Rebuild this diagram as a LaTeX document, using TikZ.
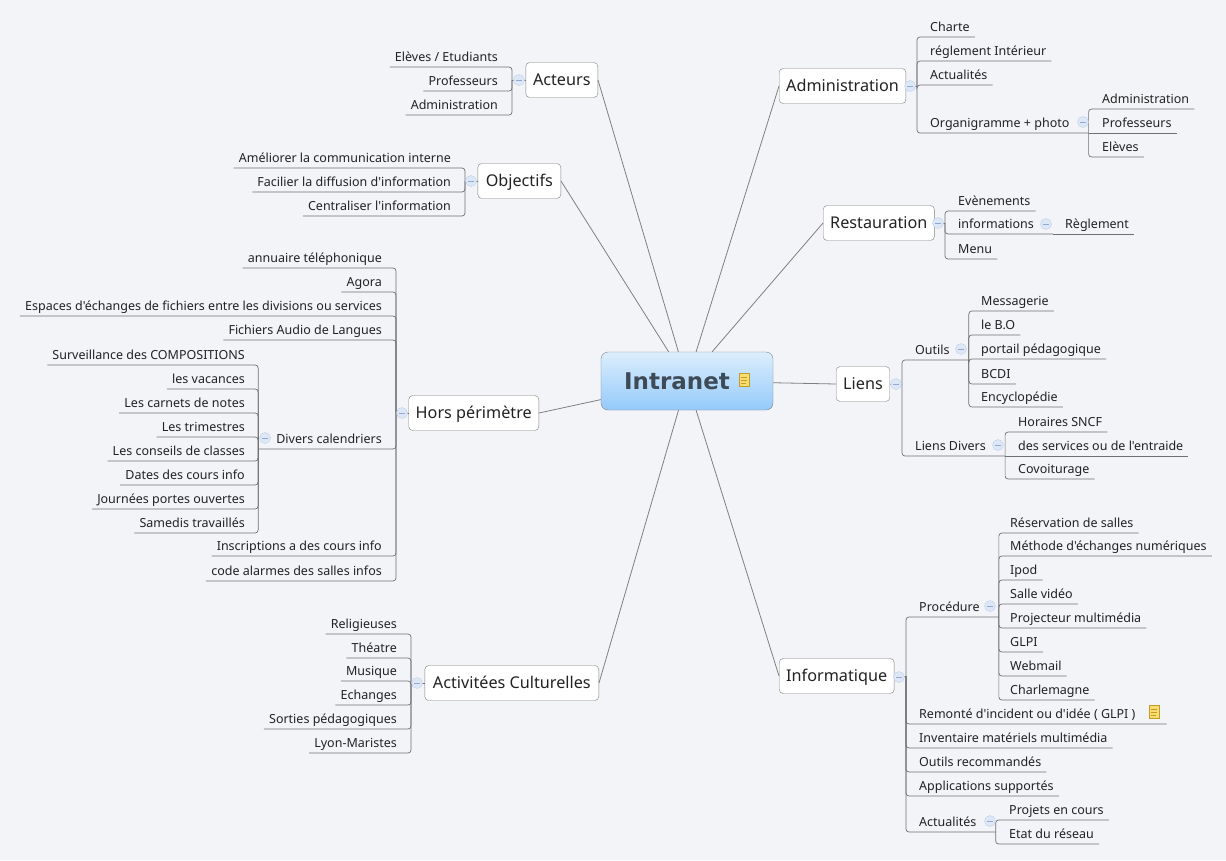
\documentclass[tikz,border=0pt]{standalone}
\usepackage{fontspec}
\setmainfont[Ligatures=TeXOff]{Noto Sans}
\newfontfamily\titlefont{DejaVu Sans}
\usepackage{xcolor}
\definecolor{pagebg}{HTML}{F3F4F8}
\definecolor{inkdark}{HTML}{222222}
\definecolor{linegray}{HTML}{808080}
\definecolor{twiggray}{HTML}{707070}
\definecolor{foldfill}{HTML}{DDE7F6}
\definecolor{foldline}{HTML}{BBD0EC}
\definecolor{foldbar}{HTML}{8FAAD2}
\definecolor{centertop}{HTML}{DCEEFD}
\definecolor{centerbot}{HTML}{94CAFA}
\definecolor{centerink}{HTML}{3E4A56}
\definecolor{noteyellow}{HTML}{F8DD72}
\definecolor{noteline}{HTML}{C49A22}
\tikzset{
	topicbox/.style={draw=linegray, fill=white, rounded corners=4pt, minimum height=35pt, inner xsep=7pt, inner ysep=0pt, text height=14pt, text depth=3pt, text=inkdark, font=\fontsize{16.2}{20}\selectfont},
	centerbox/.style={draw=linegray, top color=centertop, bottom color=centerbot, rounded corners=7pt, minimum width=172pt, minimum height=58pt, inner sep=0pt, text=centerink, font=\titlefont\bfseries\fontsize{23}{28}\selectfont},
	leafbase/.style={inner xsep=0pt, inner ysep=2pt, text height=9pt, text depth=3pt, text=inkdark, font=\fontsize{12.5}{15}\selectfont},
	leafr/.style={leafbase, anchor=south west, execute at begin node=\hspace*{13pt}, execute at end node=\hspace*{#1}},
	leafr/.default=5pt,
	leafl/.style={leafbase, anchor=south east, execute at begin node=\hspace*{#1}, execute at end node=\hspace*{14pt}},
	leafl/.default=5pt,
	branch/.style={draw=linegray, line width=0.8pt},
	twig/.style={draw=twiggray, line width=0.7pt, rounded corners=3pt},
	fold/.style={circle, draw=foldline, fill=foldfill, minimum size=11pt, inner sep=0pt, path picture={\draw[foldbar, line width=0.7pt] ([xshift=-3pt]path picture bounding box.center) -- ([xshift=3pt]path picture bounding box.center);}},
	noteicon/.style={draw=noteline, fill=noteyellow, minimum width=10pt, minimum height=13pt, inner sep=0pt, path picture={
		\draw[noteline, line width=0.6pt] ([xshift=-3pt,yshift=3pt]path picture bounding box.center) -- ([xshift=3pt,yshift=3pt]path picture bounding box.center);
		\draw[noteline, line width=0.6pt] ([xshift=-3pt]path picture bounding box.center) -- ([xshift=3pt]path picture bounding box.center);
		\draw[noteline, line width=0.6pt] ([xshift=-3pt,yshift=-3pt]path picture bounding box.center) -- ([xshift=2pt,yshift=-3pt]path picture bounding box.center);}},
}
\begin{document}
\begin{tikzpicture}[x=1pt, y=-1pt]
	% Page
	\fill[pagebg] (0,0) rectangle (1226,860);

	% Center and main topics
	\node[centerbox] (intranet) at (687,381) {Intranet\hspace*{20pt}};
	\node[topicbox, anchor=east, minimum width=72pt] (acteurs) at (598,80) {Acteurs};
	\node[topicbox, anchor=east, minimum width=83pt] (objectifs) at (561,181) {Objectifs};
	\node[topicbox, anchor=east, minimum width=129pt] (hors) at (539,413) {Hors périmètre};
	\node[topicbox, anchor=east, minimum width=174pt] (activites) at (599,683) {Activitées Culturelles};
	\node[topicbox, anchor=west, minimum width=125pt] (administration) at (779,86) {Administration};
	\node[topicbox, anchor=west, minimum width=109pt] (restauration) at (823,223) {Restauration};
	\node[topicbox, anchor=west, minimum width=53pt] (liens) at (836,384) {Liens};
	\node[topicbox, anchor=west, minimum width=113pt] (informatique) at (779,676) {Informatique};

	\draw[branch] (intranet) -- (acteurs.east);
	\draw[branch] (intranet) -- (objectifs.east);
	\draw[branch] (intranet) -- (hors.east);
	\draw[branch] (intranet) -- (activites.east);
	\draw[branch] (intranet) -- (administration.west);
	\draw[branch] (intranet) -- (restauration.west);
	\draw[branch] (intranet) -- (liens.west);
	\draw[branch] (intranet) -- (informatique.west);

	% Joints on the spines
	\coordinate (acteursjoin) at (512,80);
	\coordinate (objectifsjoin) at (465,181);
	\coordinate (horsjoin) at (396,413);
	\coordinate (activitesjoin) at (411,683);
	\coordinate (administrationjoin) at (917,86);
	\coordinate (restaurationjoin) at (945,223);
	\coordinate (liensjoin) at (902,384);
	\coordinate (informatiquejoin) at (906,676);

	\draw[twig] (acteurs.west) -- (acteursjoin);
	\draw[twig] (objectifs.west) -- (objectifsjoin);
	\draw[twig] (hors.west) -- (horsjoin);
	\draw[twig] (activites.west) -- (activitesjoin);
	\draw[twig] (administration.east) -- (administrationjoin);
	\draw[twig] (restauration.east) -- (restaurationjoin);
	\draw[twig] (liens.east) -- (liensjoin);
	\draw[twig] (informatique.east) -- (informatiquejoin);

	% Acteurs
	\node[leafl] (eleves) at (512,67) {Elèves / Etudiants};
	\node[leafl] (professeurs) at (512,91) {Professeurs};
	\node[leafl] (admin) at (512,115) {Administration};
	\draw[twig] (acteursjoin) |- (eleves.south west);
	\draw[twig] (acteursjoin) |- (professeurs.south west);
	\draw[twig] (acteursjoin) |- (admin.south west);

	% Objectifs
	\node[leafl] (ameliorer) at (465,168) {Améliorer la communication interne};
	\node[leafl] (faciliter) at (465,192) {Facilier la diffusion d'information};
	\node[leafl] (centraliser) at (465,216) {Centraliser l'information};
	\draw[twig] (objectifsjoin) |- (ameliorer.south west);
	\draw[twig] (objectifsjoin) |- (faciliter.south west);
	\draw[twig] (objectifsjoin) |- (centraliser.south west);

	% Hors perimetre
	\node[leafl] (annuaire) at (396,268) {annuaire téléphonique};
	\node[leafl] (agora) at (396,292) {Agora};
	\node[leafl] (espaces) at (396,316) {Espaces d'échanges de fichiers entre les divisions ou services};
	\node[leafl] (fichiers) at (396,340) {Fichiers Audio de Langues};
	\node[leafl=18pt] (divers) at (396,449) {Divers calendriers};
	\node[leafl] (inscriptions) at (396,556) {Inscriptions a des cours info};
	\node[leafl] (alarmes) at (396,581) {code alarmes des salles infos};
	\draw[twig] (horsjoin) |- (annuaire.south west);
	\draw[twig] (horsjoin) |- (agora.south west);
	\draw[twig] (horsjoin) |- (espaces.south west);
	\draw[twig] (horsjoin) |- (fichiers.south west);
	\draw[twig] (horsjoin) |- (divers.south west);
	\draw[twig] (horsjoin) |- (inscriptions.south west);
	\draw[twig] (horsjoin) |- (alarmes.south west);

	\node[leafl] (surveillance) at (259,365) {Surveillance des COMPOSITIONS};
	\node[leafl] (vacances) at (259,389) {les vacances};
	\node[leafl] (carnets) at (259,413) {Les carnets de notes};
	\node[leafl] (trimestres) at (259,437) {Les trimestres};
	\node[leafl] (conseils) at (259,461) {Les conseils de classes};
	\node[leafl] (dates) at (259,485) {Dates des cours info};
	\node[leafl] (journees) at (259,509) {Journées portes ouvertes};
	\node[leafl] (samedis) at (259,533) {Samedis travaillés};
	\draw[twig] (divers.south west) |- (surveillance.south west);
	\draw[twig] (divers.south west) |- (vacances.south west);
	\draw[twig] (divers.south west) |- (carnets.south west);
	\draw[twig] (divers.south west) |- (trimestres.south west);
	\draw[twig] (divers.south west) |- (conseils.south west);
	\draw[twig] (divers.south west) |- (dates.south west);
	\draw[twig] (divers.south west) |- (journees.south west);
	\draw[twig] (divers.south west) |- (samedis.south west);

	% Activites culturelles
	\node[leafl] (religieuses) at (411,634) {Religieuses};
	\node[leafl] (theatre) at (411,658) {Théatre};
	\node[leafl] (musique) at (411,681) {Musique};
	\node[leafl] (echanges) at (411,705) {Echanges};
	\node[leafl] (sorties) at (411,729) {Sorties pédagogiques};
	\node[leafl] (lyon) at (411,753) {Lyon-Maristes};
	\draw[twig] (activitesjoin) |- (religieuses.south west);
	\draw[twig] (activitesjoin) |- (theatre.south west);
	\draw[twig] (activitesjoin) |- (musique.south west);
	\draw[twig] (activitesjoin) |- (echanges.south west);
	\draw[twig] (activitesjoin) |- (sorties.south west);
	\draw[twig] (activitesjoin) |- (lyon.south west);

	% Administration
	\node[leafr] (charte) at (917,37) {Charte};
	\node[leafr] (reglementint) at (917,61) {réglement Intérieur};
	\node[leafr] (actuadmin) at (917,85) {Actualités};
	\node[leafr=19pt] (organigramme) at (917,133) {Organigramme + photo};
	\draw[twig] (administrationjoin) |- (charte.south east);
	\draw[twig] (administrationjoin) |- (reglementint.south east);
	\draw[twig] (administrationjoin) |- (actuadmin.south east);
	\draw[twig] (administrationjoin) |- (organigramme.south east);

	\node[leafr] (orgadmin) at (1089,109) {Administration};
	\node[leafr] (orgprof) at (1089,133) {Professeurs};
	\node[leafr] (orgeleves) at (1089,157) {Elèves};
	\draw[twig] (organigramme.south east) |- (orgadmin.south east);
	\draw[twig] (organigramme.south east) -- (orgprof.south east);
	\draw[twig] (organigramme.south east) |- (orgeleves.south east);

	% Restauration
	\node[leafr] (evenements) at (945,211) {Evènements};
	\node[leafr=19pt] (informations) at (945,234) {informations};
	\node[leafr] (menu) at (945,259) {Menu};
	\node[leafr] (reglement) at (1052,234) {Règlement};
	\draw[twig] (restaurationjoin) |- (evenements.south east);
	\draw[twig] (restaurationjoin) |- (informations.south east);
	\draw[twig] (restaurationjoin) |- (menu.south east);
	\draw[twig] (informations.south east) -- (reglement.south east);

	% Liens
	\node[leafr=19pt] (outils) at (902,360) {Outils};
	\node[leafr=19pt] (liensdivers) at (902,456) {Liens Divers};
	\draw[twig] (liensjoin) |- (outils.south east);
	\draw[twig] (liensjoin) |- (liensdivers.south east);

	\node[leafr] (messagerie) at (968,311) {Messagerie};
	\node[leafr] (bo) at (968,335) {le B.O};
	\node[leafr] (portail) at (968,359) {portail pédagogique};
	\node[leafr] (bcdi) at (968,384) {BCDI};
	\node[leafr] (encyclopedie) at (968,407) {Encyclopédie};
	\draw[twig] (outils.south east) |- (messagerie.south east);
	\draw[twig] (outils.south east) |- (bo.south east);
	\draw[twig] (outils.south east) |- (portail.south east);
	\draw[twig] (outils.south east) |- (bcdi.south east);
	\draw[twig] (outils.south east) |- (encyclopedie.south east);

	\node[leafr] (horaires) at (1005,432) {Horaires SNCF};
	\node[leafr] (services) at (1005,456) {des services ou de l'entraide};
	\node[leafr] (covoiturage) at (1005,479) {Covoiturage};
	\draw[twig] (liensdivers.south east) |- (horaires.south east);
	\draw[twig] (liensdivers.south east) -- (services.south east);
	\draw[twig] (liensdivers.south east) |- (covoiturage.south east);

	% Informatique
	\node[leafr=19pt] (procedure) at (906,617) {Procédure};
	\node[leafr=31pt] (remonte) at (906,724) {Remonté d'incident ou d'idée ( GLPI )};
	\node[leafr] (inventaire) at (906,748) {Inventaire matériels multimédia};
	\node[leafr] (recommandes) at (906,772) {Outils recommandés};
	\node[leafr] (applications) at (906,796) {Applications supportés};
	\node[leafr=19pt] (actualites) at (906,832) {Actualités};
	\draw[twig] (informatiquejoin) |- (procedure.south east);
	\draw[twig] (informatiquejoin) |- (remonte.south east);
	\draw[twig] (informatiquejoin) |- (inventaire.south east);
	\draw[twig] (informatiquejoin) |- (recommandes.south east);
	\draw[twig] (informatiquejoin) |- (applications.south east);
	\draw[twig] (informatiquejoin) |- (actualites.south east);

	\node[leafr] (reservation) at (997,533) {Réservation de salles};
	\node[leafr] (methode) at (997,556) {Méthode d'échanges numériques};
	\node[leafr] (ipod) at (997,580) {Ipod};
	\node[leafr] (sallevideo) at (997,604) {Salle vidéo};
	\node[leafr] (projecteur) at (997,628) {Projecteur multimédia};
	\node[leafr] (glpi) at (997,652) {GLPI};
	\node[leafr] (webmail) at (997,676) {Webmail};
	\node[leafr] (charlemagne) at (997,700) {Charlemagne};
	\draw[twig] (procedure.south east) |- (reservation.south east);
	\draw[twig] (procedure.south east) |- (methode.south east);
	\draw[twig] (procedure.south east) |- (ipod.south east);
	\draw[twig] (procedure.south east) |- (sallevideo.south east);
	\draw[twig] (procedure.south east) |- (projecteur.south east);
	\draw[twig] (procedure.south east) |- (glpi.south east);
	\draw[twig] (procedure.south east) |- (webmail.south east);
	\draw[twig] (procedure.south east) |- (charlemagne.south east);

	\node[leafr] (projets) at (996,820) {Projets en cours};
	\node[leafr] (etat) at (996,844) {Etat du réseau};
	\draw[twig] (actualites.south east) |- (projets.south east);
	\draw[twig] (actualites.south east) |- (etat.south east);

	% Fold buttons
	\node[fold] (foldacteurs) at (519,80) {};
	\node[fold] (foldobjectifs) at (471,181) {};
	\node[fold] (foldhors) at (402,413) {};
	\node[fold] (folddivers) at (265,438) {};
	\node[fold] (foldactivites) at (417,683) {};
	\node[fold] (foldadministration) at (910,86) {};
	\node[fold] (foldorganigramme) at (1083,122) {};
	\node[fold] (foldrestauration) at (938,223) {};
	\node[fold] (foldinformations) at (1046,224) {};
	\node[fold] (foldliens) at (896,384) {};
	\node[fold] (foldoutils) at (961,349) {};
	\node[fold] (foldliensdivers) at (998,445) {};
	\node[fold] (foldinformatique) at (899,677) {};
	\node[fold] (foldprocedure) at (990,606) {};
	\node[fold] (foldactualites) at (990,821) {};

	% Notes
	\node[noteicon] (noteintranet) at (744,380) {};
	\node[noteicon] (noteremonte) at (1154,712) {};
\end{tikzpicture}
\end{document}
